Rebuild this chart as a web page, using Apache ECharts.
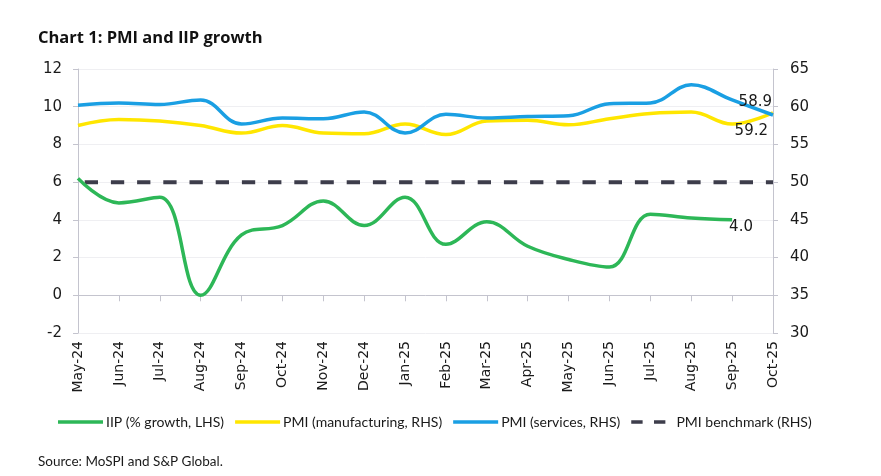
<!DOCTYPE html>
<html>
<head>
<meta charset="utf-8">
<script src="https://cdn.jsdelivr.net/npm/echarts@6/dist/echarts.min.js"></script>
<style>
html,body{margin:0;padding:0;background:#fff;}
#chart{width:881px;height:476px;}
</style>
</head>
<body>
<div id="chart"></div>
<script>
const months = ['May-24','Jun-24','Jul-24','Aug-24','Sep-24','Oct-24','Nov-24','Dec-24','Jan-25','Feb-25','Mar-25','Apr-25','May-25','Jun-25','Jul-25','Aug-25','Sep-25','Oct-25'];
const iip = [6.2,4.9,5.2,0.0,3.2,3.7,5.0,3.7,5.2,2.7,3.9,2.6,1.9,1.5,4.3,4.1,4.0];
const pmiMfg = [57.5,58.3,58.1,57.5,56.5,57.5,56.5,56.4,57.7,56.3,58.1,58.2,57.6,58.4,59.1,59.3,57.7,59.2];
const pmiSvc = [60.2,60.5,60.3,60.9,57.7,58.5,58.4,59.3,56.5,59.0,58.5,58.7,58.8,60.4,60.5,62.9,60.9,58.9];
const benchmark = [50,50,50,50,50,50,50,50,50,50,50,50,50,50,50,50,50,50];
const leftTicks = {min:-2,max:12,interval:2};
const rightTicks = {min:30,max:65,interval:5};
const seriesNames = ['IIP (% growth, LHS)','PMI (manufacturing, RHS)','PMI (services, RHS)','PMI benchmark (RHS)'];

const GREEN='#2DB757', YELLOW='#FFE600', BLUE='#1A9FE3', DARK='#3D3D4B';
const AXIS='#C4C4CE', TXT='#1a1a1a';
const NUMFONT='DejaVu Sans';
const DASH_ICON='path://M0,0h13v4h-13z M26,0h13v4h-13z M45,0h0.01v0.01h-0.01z';

const chart = echarts.init(document.getElementById('chart'), null, {renderer:'canvas'});
chart.setOption({
  animation:false,
  backgroundColor:'#fff',
  title:{
    text:'Chart 1: PMI and IIP growth',
    left:38, top:30, padding:0,
    textStyle:{fontFamily:'Open Sans',fontWeight:'bold',fontSize:16.5,color:'#111'}
  },
  legend:{
    left:58, top:415, padding:0,
    itemWidth:45, itemHeight:3.5, itemGap:11,
    textStyle:{fontFamily:'Lato',fontSize:14,color:TXT,padding:[0,0,0,-2]},
    data:[
      {name:seriesNames[0],icon:'rect'},
      {name:seriesNames[1],icon:'rect'},
      {name:seriesNames[2],icon:'rect'},
      {name:seriesNames[3],icon:DASH_ICON}
    ]
  },
  graphic:[{
    type:'text', left:38, top:455,
    style:{text:'Source: MoSPI and S&P Global.',font:'13.5px Lato',fill:TXT}
  }],
  grid:{left:78,right:108,top:69,bottom:143,containLabel:false},
  xAxis:[{
    type:'category', data:months, boundaryGap:false, position:'bottom',
    axisLine:{show:false,onZero:false}, axisTick:{show:false},
    axisLabel:{rotate:90,margin:8,fontFamily:NUMFONT,fontSize:14,color:TXT,interval:0},
    splitLine:{show:false}
  },{
    type:'category', data:months, boundaryGap:false,
    axisLine:{show:true,onZero:true,onZeroAxisIndex:0,lineStyle:{color:AXIS,width:1}},
    axisTick:{show:true,inside:true,length:6,interval:0,lineStyle:{color:AXIS}},
    axisLabel:{show:false}, splitLine:{show:false}
  }],
  yAxis:[{
    type:'value', position:'left', min:leftTicks.min, max:leftTicks.max, interval:leftTicks.interval,
    axisLine:{show:true,lineStyle:{color:AXIS}},
    axisTick:{show:true,length:5,lineStyle:{color:AXIS}},
    axisLabel:{margin:16,fontFamily:NUMFONT,fontSize:15,color:TXT},
    splitLine:{show:true,lineStyle:{color:'#EFEFF2',width:1}}
  },{
    type:'value', position:'right', min:rightTicks.min, max:rightTicks.max, interval:rightTicks.interval,
    axisLine:{show:true,lineStyle:{color:AXIS}},
    axisTick:{show:true,length:5,lineStyle:{color:AXIS}},
    axisLabel:{margin:17,fontFamily:NUMFONT,fontSize:15,color:TXT},
    splitLine:{show:false}
  }],
  series:[{
    name:seriesNames[0], type:'line', xAxisIndex:0, yAxisIndex:0, data:iip,
    smooth:0.4, symbol:'none', lineStyle:{color:GREEN,width:3.5}, itemStyle:{color:GREEN},
    endLabel:{show:true,formatter:p=>Number(p.value).toFixed(1),fontFamily:NUMFONT,fontSize:15,color:TXT,
      distance:0,align:'left',verticalAlign:'middle',offset:[-3,7]},
    z:3
  },{
    name:seriesNames[1], type:'line', xAxisIndex:0, yAxisIndex:1, data:pmiMfg,
    smooth:0.4, symbol:'none', lineStyle:{color:YELLOW,width:3.5}, itemStyle:{color:YELLOW},
    endLabel:{show:true,formatter:p=>Number(p.value).toFixed(1),fontFamily:NUMFONT,fontSize:15,color:TXT,
      distance:0,align:'right',verticalAlign:'middle',offset:[-5,18]},
    z:3
  },{
    name:seriesNames[2], type:'line', xAxisIndex:0, yAxisIndex:1, data:pmiSvc,
    smooth:0.4, symbol:'none', lineStyle:{color:BLUE,width:3.5}, itemStyle:{color:BLUE},
    endLabel:{show:true,formatter:p=>Number(p.value).toFixed(1),fontFamily:NUMFONT,fontSize:15,color:TXT,
      distance:0,align:'right',verticalAlign:'middle',offset:[-1,-13]},
    z:4
  },{
    name:seriesNames[3], type:'line', xAxisIndex:0, yAxisIndex:1, data:benchmark,
    symbol:'none', lineStyle:{color:DARK,width:4,type:[13.3,12.9],dashOffset:19.5}, itemStyle:{color:DARK},
    z:2
  }]
});
</script>
</body>
</html>
